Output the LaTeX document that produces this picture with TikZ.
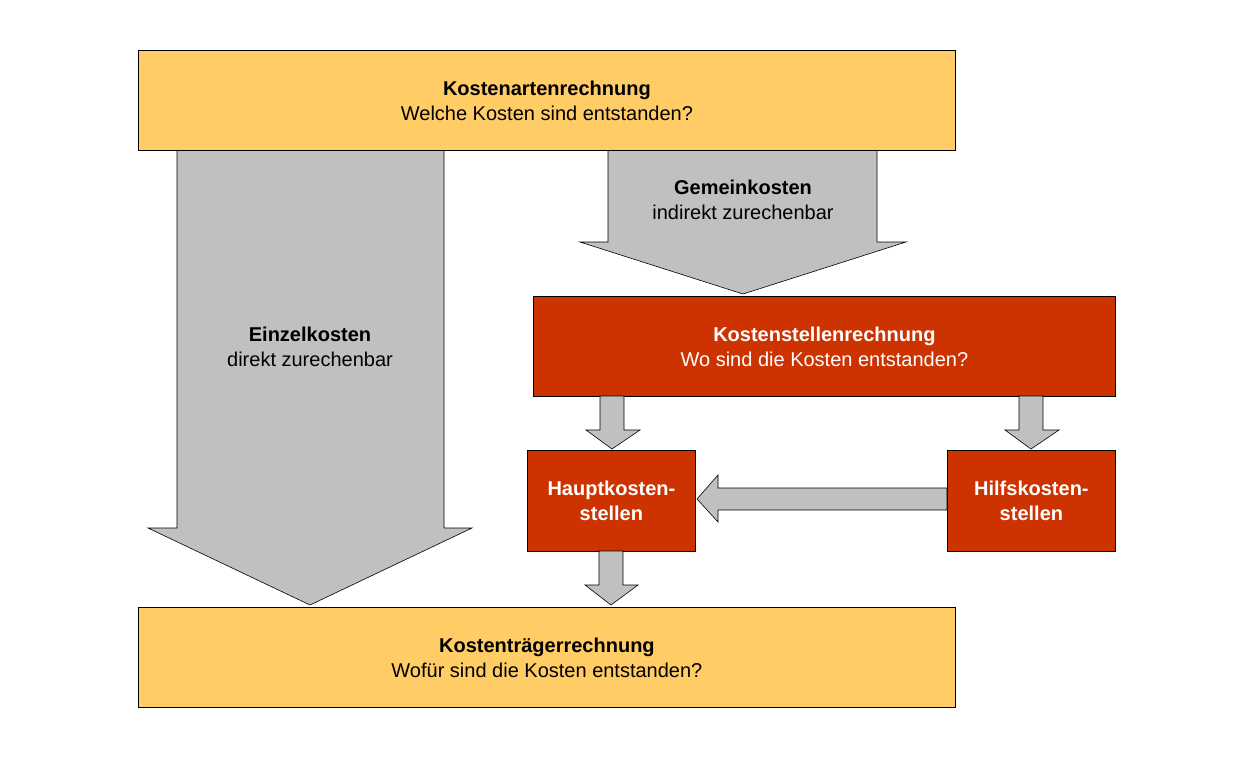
\documentclass[tikz,border=0pt]{standalone}
\usepackage{fontspec}
\setmainfont{Liberation Sans}
\definecolor{boxyellow}{RGB}{255,204,102}
\definecolor{boxred}{RGB}{204,51,0}
\definecolor{arrgray}{RGB}{192,192,192}
\begin{document}
\begin{tikzpicture}[x=1pt,y=-1pt,
  box/.style={draw=black,line width=0.8pt,fill=boxyellow,text=black,align=center,font=\fontsize{20}{25}\selectfont},
  rbox/.style={draw=black,line width=0.8pt,fill=boxred,text=white,align=center,font=\fontsize{20}{25}\selectfont\bfseries},
  garrow/.style={draw=black,line width=0.6pt,fill=arrgray},
  lbl/.style={align=center,font=\fontsize{20}{25}\selectfont}]
\useasboundingbox (0,0) rectangle (1239,760);
% big arrows
\draw[garrow] (177,150) -- (444,150) -- (444,528) -- (472,528) -- (310,605) -- (148,528) -- (177,528) -- cycle;
\draw[garrow] (608,150) -- (877,150) -- (877,242) -- (906,242) -- (743,294) -- (580,242) -- (608,242) -- cycle;
% boxes
\node[box,minimum width=817pt,minimum height=100pt,anchor=north west] (kar) at (138,50) {\textbf{Kostenartenrechnung}\\Welche Kosten sind entstanden?};
\node[box,minimum width=817pt,minimum height=100pt,anchor=north west] (ktr) at (138,607) {\textbf{Kostenträgerrechnung}\\Wofür sind die Kosten entstanden?};
\node[rbox,minimum width=582pt,minimum height=100pt,anchor=north west] (ksr) at (533,296) {Kostenstellenrechnung\\\mdseries Wo sind die Kosten entstanden?};
\node[rbox,minimum width=168pt,minimum height=101pt,anchor=north west] (hk) at (527,450) {Hauptkosten-\\stellen};
\node[rbox,minimum width=168pt,minimum height=101pt,anchor=north west] (hi) at (947,450) {Hilfskosten-\\stellen};
% small arrows
\draw[garrow] (600,396) -- (624,396) -- (624,430) -- (640,430) -- (612,449) -- (586,430) -- (600,430) -- cycle;
\draw[garrow] (1019,396) -- (1043,396) -- (1043,430) -- (1059,430) -- (1031,449) -- (1005,430) -- (1019,430) -- cycle;
\draw[garrow] (599,551) -- (623,551) -- (623,585) -- (638,585) -- (611,605) -- (585,585) -- (599,585) -- cycle;
\draw[garrow] (947,488) -- (718,488) -- (718,475) -- (697,499) -- (718,522) -- (718,510) -- (947,510) -- cycle;
% labels
\node[lbl] (ek) at (310,347) {\textbf{Einzelkosten}\\direkt zurechenbar};
\node[lbl] (gk) at (743,200) {\textbf{Gemeinkosten}\\indirekt zurechenbar};
\end{tikzpicture}
\end{document}
